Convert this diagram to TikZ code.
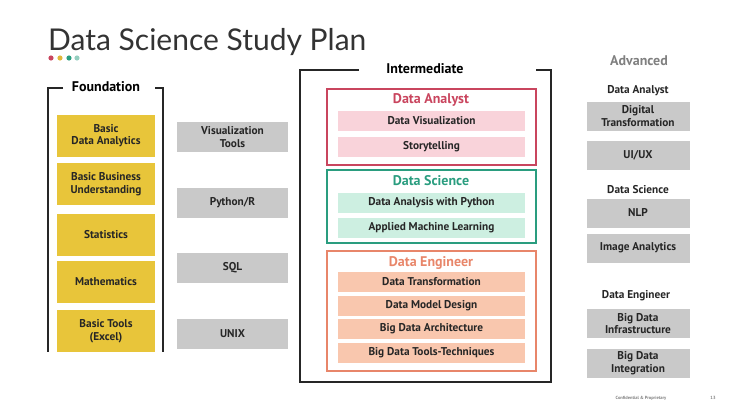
\documentclass[tikz,border=0pt]{standalone}
\usepackage{fontspec}
\setmainfont{PT Sans}
\newfontfamily\titlefont{Lato}
\definecolor{yel}{HTML}{E8C53A}
\definecolor{gry}{HTML}{C9C9C9}
\definecolor{crim}{HTML}{C9455E}
\definecolor{pinkf}{HTML}{F9D3DA}
\definecolor{teal}{HTML}{2A9D7F}
\definecolor{tealf}{HTML}{CDEFE1}
\definecolor{oran}{HTML}{E8866A}
\definecolor{oranf}{HTML}{F9C7AE}
\begin{document}
\begin{tikzpicture}[x=1pt,y=-1pt,
  t/.style={font=\bfseries\fontsize{11.3}{12.5}\selectfont,text=black!85,align=center},
  fbox/.style={t,fill=yel,minimum width=98pt,minimum height=42pt,inner sep=0},
  gbox/.style={t,fill=gry,minimum width=111pt,minimum height=30pt,inner sep=0},
  abox/.style={t,fill=gry,minimum width=103pt,minimum height=29pt,inner sep=0},
  ibox/.style={t,minimum width=187pt,minimum height=20pt,inner sep=0},
  head/.style={font=\bfseries\fontsize{14}{16}\selectfont},
  sub/.style={t},
  brk/.style={line width=2pt,black!85}]
\useasboundingbox (0,0) rectangle (739,415);
\node[anchor=base west,font=\titlefont\fontsize{30}{34}\selectfont,text=black!80,inner sep=0] (title) at (48,50) {Data Science Study Plan};
\foreach \x/\c in {51/crim,60/yel!80!brown,69/teal,77/teal!50} \fill[\c] (\x,58) circle (2.6);
% Foundation
\node[head] (fh) at (106,87) {Foundation};
\draw[brk] (63,88) -- (48,88) -- (48,352);
\draw[brk] (155,88) -- (163,88) -- (163,352);
\node[fbox] (f1) at (106,135.5) {Basic\\Data Analytics};
\node[fbox] (f2) at (106,184) {Basic Business\\Understanding};
\node[fbox] (f3) at (106,234.5) {Statistics};
\node[fbox] (f4) at (106,282) {Mathematics};
\node[fbox] (f5) at (106,331) {Basic Tools\\(Excel)};
\node[gbox] (g1) at (232.5,137) {Visualization\\Tools};
\node[gbox] (g2) at (232.5,203) {Python/R};
\node[gbox] (g3) at (232.5,268) {SQL};
\node[gbox] (g4) at (232.5,334) {UNIX};
% Intermediate
\node[head] (ih) at (425,69) {Intermediate};
\draw[brk] (359,70) -- (300,70) -- (300,382) -- (551,382) -- (551,70) -- (536,70);
\draw[crim,line width=1.5pt] (327,89) rectangle (536,165);
\node[head,text=crim] (da) at (431,100) {Data Analyst};
\node[ibox,fill=pinkf] (da1) at (431.5,121) {Data Visualization};
\node[ibox,fill=pinkf] (da2) at (431.5,147) {Storytelling};
\draw[teal,line width=1.5pt] (327,170) rectangle (536,243);
\node[head,text=teal] (ds) at (431,181) {Data Science};
\node[ibox,fill=tealf] (ds1) at (431.5,203) {Data Analysis with Python};
\node[ibox,fill=tealf] (ds2) at (431.5,228) {Applied Machine Learning};
\draw[oran,line width=1.5pt] (327,251) rectangle (536,371);
\node[head,text=oran] (de) at (431,263) {Data Engineer};
\node[ibox,fill=oranf] (de1) at (431.5,282) {Data Transformation};
\node[ibox,fill=oranf] (de2) at (431.5,306) {Data Model Design};
\node[ibox,fill=oranf] (de3) at (431.5,329) {Big Data Architecture};
\node[ibox,fill=oranf] (de4) at (431.5,353) {Big Data Tools-Techniques};
% Advanced
\node[head,text=gray] (ah) at (639,61) {Advanced};
\node[sub] (l1) at (638,91) {Data Analyst};
\node[abox] (a1) at (638,116) {Digital\\Transformation};
\node[abox] (a2) at (638,155) {UI/UX};
\node[sub] (l2) at (638,190) {Data Science};
\node[abox] (a3) at (638,213) {NLP};
\node[abox] (a4) at (638,248) {Image Analytics};
\node[sub] (l3) at (636,296) {Data Engineer};
\node[abox] (a5) at (638,323.5) {Big Data\\Infrastructure};
\node[abox] (a6) at (638,363) {Big Data\\Integration};
\node[font=\bfseries\fontsize{4.5}{5}\selectfont,text=gray] (c) at (641,398) {Confidential \& Proprietary};
\node[font=\bfseries\fontsize{4.5}{5}\selectfont,text=gray] (n) at (713,398) {13};
\end{tikzpicture}
\end{document}
